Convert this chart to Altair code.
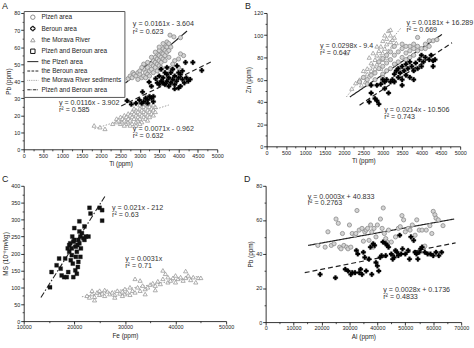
import altair as alt
import pandas as pd

FONT = "Liberation Sans"

# ---------------- Panel A : Pb vs Ti ----------------
A_PLZEN = [(2700,41.5),(2750,43),(2800,42),(2820,45),(2850,44),(2900,43),(2950,45),(3000,44),(3050,42),(3100,43),
           (3000,46),(3100,47),(3150,45),(3200,44),(3200,48),(3250,46),(3300,47),(3300,50),(3350,49),(3350,52),
           (3400,48),(3400,51),(3400,54),(3450,50),(3450,53),(3450,56),(3500,52),(3500,55),(3500,49),(3550,54),
           (3550,57),(3550,51),(3600,53),(3600,56),(3600,59),(3650,55),(3650,58),(3650,61),(3700,57),(3700,60),
           (3700,63),(3750,58),(3750,62),(3800,60),(3780,67),(3880,66),(4050,65.5),(3600,62),(3500,58),(3400,57),
           (3300,54),(3200,51),(3100,50),(3050,48),(4130,55),(4000,53),(3900,52),(4050,56),(3850,50),(3750,54),
           (3650,52),(3550,48),(3450,46),(3350,45),(3250,43),(3150,42),(2950,41),(3770,47.5),(4000,48),(3500,60)]
A_BEROUN = [(2670,28.5),(2780,26.4),(2900,27),(2990,28.9),(3050,27),(3100,28),(3150,30),(3200,29),(3250,31),(3300,30),
            (3350,28),(3350,31),(3200,27),(3070,33.7),(3240,39.5),(3300,37),(3410,41.5),(3450,39),(3500,38),(3500,43),
            (3550,40),(3600,42),(3600,39),(3650,45),(3650,38),(3700,40),(3700,44),(3750,37),(3750,42),(3800,45),
            (3800,39),(3850,41),(3850,47),(3900,43),(3900,38),(3950,40),(3960,49),(4000,42),(4000,45),(4050,37),
            (4050,44),(4100,41),(4100,46),(4150,39),(4180,51),(4200,42),(4250,40),(4300,41),(4370,51),(4600,46.3),
            (3550,47),(3700,48),(4000,36),(3900,35.5)]
A_MORAVA = [(1820,14),(1970,13),(2100,12),(2300,15),(2400,16),(2400,18),(2450,17),(2500,15),(2500,19),(2550,16),
            (2550,18),(2600,17),(2600,20),(2650,15),(2650,19),(2700,16),(2700,18),(2700,21),(2750,17),(2750,20),
            (2800,15),(2800,19),(2800,22),(2850,18),(2850,21),(2900,16),(2900,20),(2900,23),(2950,17),(2950,19),
            (2950,22),(3000,18),(3000,21),(3000,24),(3050,16),(3050,20),(3050,23),(3100,19),(3100,22),(3100,25),
            (3150,18),(3150,21),(3150,24),(3200,20),(3200,23),(3200,26),(3250,19),(3250,22),(3250,25),(3300,21),
            (3300,24),(3300,27),(3350,20),(3350,23),(3400,22),(3400,25),(3100,27),(3000,26),(2850,24),(2600,14),
            (2750,14),(3200,17),(3350,26),(3000,15),(2900,14)]
A_LINES = [("solid", 2630, 38.9, 4220, 69.4), ("dashed", 2520, 25.4, 4860, 51.5), ("dotted", 1825, 12.0, 3750, 26.0)]
A_TEXT = [("y = 0.0161x - 3.604", 2820, 73.3), ("r\u00b2 = 0.623", 2820, 69.0),
          ("y = 0.0116x - 3.902", 910, 27.4), ("r\u00b2 = 0.585", 910, 23.1),
          ("y = 0.0071x - 0.962", 2820, 12.0), ("r\u00b2 = 0.632", 2820, 7.7)]

# ---------------- Panel B : Zn vs Ti ----------------
B_MORAVA = [(2400,60),(2450,55),(2500,62),(2550,58),(2600,65),(2600,70),(2650,63),(2700,68),(2700,75),(2750,72),
            (2750,66),(2800,78),(2800,70),(2850,74),(2850,82),(2900,76),(2900,86),(2950,80),(2950,90),(3000,84),
            (3000,95),(3050,88),(3050,100),(3100,92),(3100,97),(3150,104),(3150,86),(3200,94),(3200,100),(3250,96),
            (3250,90),(3300,98),(3350,93),(2650,80),(2850,90),(2500,68),(2300,57),(2200,52),(3000,78),(3100,80),
            (2750,84),(3200,105),(2950,70),(2060,84)]
B_PLZEN = [(2400,58),(2500,62),(2600,60),(2700,64),(2800,66),(2900,70),(3000,72),(3000,65),(3100,68),(3100,75),
           (3200,70),(3200,78),(3300,74),(3300,82),(3400,76),(3400,85),(3500,80),(3500,88),(3600,84),(3600,78),
           (3700,86),(3700,90),(3800,88),(3800,82),(3900,90),(4000,88),(4100,92),(4200,90),(4300,95),(4400,96),
           (3300,90),(3200,85),(3100,82),(3000,79),(2900,76),(3500,92),(3600,90),(3800,92),(3900,86),(4100,88),
           (4200,95),(3900,98),(3700,80),(2800,60),(3000,62),(2600,56)]
B_BEROUN = [(2650,40),(2700,48),(2700,55),(2800,43),(2850,41),(2900,38),(2850,55),(2950,56),(3000,60),(3050,52),
            (3050,58),(3100,60),(3200,58),(3250,60),(3300,65),(3300,58),(3350,68),(3400,62),(3400,70),(3450,66),
            (3500,72),(3500,60),(3550,68),(3600,74),(3600,64),(3650,70),(3700,76),(3700,62),(3750,72),(3800,68),
            (3800,60),(3850,75),(3900,70),(3950,78),(4000,72),(4000,82),(4050,76),(4100,80),(4200,78),(4250,82),
            (4300,72),(4300,77),(4350,78),(3500,55),(3150,48)]
B_LINES = [("dotted", 2060, 44.4, 3480, 107), ("solid", 2150, 44.4, 4530, 100.7), ("dashed", 2400, 37, 4790, 93.3)]
B_TEXT = [("y = 0.0181x + 16.289", 3612, 111), ("r\u00b2 = 0.669", 3612, 104.6),
          ("y = 0.0298x - 9.4", 1380, 90.4), ("r\u00b2 = 0.647", 1380, 83.9),
          ("y = 0.0214x - 10.506", 3041, 32.6), ("r\u00b2 = 0.743", 3041, 26.1)]

# ---------------- Panel C : MS vs Fe ----------------
C_PB = [(15200,100),(15500,145),(16500,165),(17000,185),(17300,155),(17500,135),(18000,130),(18500,130),(18200,185),
        (18800,145),(19000,205),(19000,225),(19200,230),(19500,215),(19500,195),(19700,170),(19800,130),(19800,235),
        (20000,240),(20000,275),(20200,150),(20300,220),(20500,205),(20500,140),(20700,160),(20800,240),(20800,175),
        (21000,230),(21000,295),(21000,265),(21200,250),(21300,215),(21500,260),(21800,245),(22000,240),(22000,280),
        (22300,250),(22800,250),(23000,335),(23200,318),(25000,335),(25500,328),(25500,297),(19300,180),(20300,190),
        (21200,190),(18700,215),(19600,250),(20600,225)]
C_MORAVA = [(22500,75),(23000,70),(23500,80),(23500,90),(24000,72),(24500,85),(25000,78),(25000,90),(25500,82),
            (26000,75),(26500,88),(27000,80),(27500,85),(28000,78),(28500,90),(29000,82),(29500,88),(30000,95),
            (30000,80),(30500,85),(31000,78),(31500,90),(32000,125),(32000,85),(32500,100),(33000,120),(33000,90),
            (33500,105),(34000,95),(34500,100),(35000,108),(35500,112),(36000,105),(36500,118),(37000,110),
            (37500,150),(37500,125),(38000,140),(38500,130),(38500,115),(39000,120),(39500,128),(40000,115),
            (40000,135),(40500,125),(41000,130),(41500,120),(42000,148),(42000,128),(42500,135),(43000,122),
            (43500,130),(44000,115),(44500,128),(45000,128),(24000,62),(26000,92),(28000,70),(34000,80),(36000,92),
            (29500,75),(31000,100)]
C_LINES = [("dashdot", 13400, 70, 26100, 370), ("dotted", 21500, 72, 44500, 132)]
C_TEXT = [("y = 0.021x - 212", 27450, 334.6), ("r\u00b2 = 0.63", 27450, 314),
          ("y = 0.0031x", 30065, 183.4), ("r\u00b2 = 0.71", 30065, 163)]

# ---------------- Panel D : Pb vs Al ----------------
D_PLZEN = [(18700,45),(21300,44),(22300,53),(23500,45),(24500,46),(25200,60.5),(26000,58),(26500,44),(27000,43),
           (27500,52),(28000,45),(29000,44),(29500,43),(30000,57),(30500,44),(31000,52),(32000,51),(32300,52),
           (32700,65.5),(33500,54),(34500,55),(35000,47.5),(35500,53),(36000,54),(36500,55),(37000,48),(37600,57),
           (38000,53),(38800,55),(39500,50),(40000,57),(41100,60.5),(41700,55),(42100,67),(42500,52),(43000,49),
           (44000,54),(45000,47),(46500,50),(47500,55),(48200,56),(48800,62.5),(49400,60),(50000,53),(51000,55),
           (51700,54),(52500,57),(53500,51),(54100,60),(55000,54),(56000,54),(57000,44.6),(57500,54),(58800,56.6),
           (59500,52),(60000,65),(60600,63),(61000,61),(61800,60),(63500,56.6),(43500,47),(38500,44)]
D_BEROUN = [(19500,28),(25000,26),(28500,31),(29500,30),(30500,28),(31000,29),(32000,29),(32500,42),(33000,40),
            (33500,29),(34000,31),(34500,28),(35000,41),(35500,38),(36000,30),(37000,37),(37500,44),(38000,28),
            (38500,46),(39000,45),(39500,35),(40000,33),(40500,30),(41000,38),(41500,39),(42000,47),(43000,46),
            (43500,45),(44000,44),(45000,40),(45500,37),(46000,38),(47000,41),(47500,39),(48000,51),(48500,40),
            (49000,43),(50000,40),(51000,42),(51500,37),(52000,50),(53000,48),(53500,41),(54000,40),(55000,41),
            (55500,43),(56000,44),(57000,41),(58000,40),(59000,40),(60000,39),(61000,41),(62000,39),(63000,41),
            (54500,37),(43000,39),(46500,42)]
D_LINES = [("solid", 15200, 45, 67500, 60.5), ("dashed", 14000, 29, 68000, 46.5)]
D_TEXT = [("y = 0.0003x + 40.833", 15050, 73.6), ("r\u00b2 = 0.2763", 15050, 69.7),
          ("y = 0.0028x + 0.1736", 42100, 19.0), ("r\u00b2 = 0.4833", 42100, 14.7)]

LEGEND_LABELS = ["Plze\u0148 area", "Beroun area", "the Morava River", "Plze\u0148 and Beroun area",
                 "the Plze\u0148 area", "the Beroun area", "the Morava River sediments", "Plze\u0148 and Beroun area "]

# ---------------- styles ----------------
CIRCLE = dict(shape="circle", fill="#d4d4d4", stroke="#8a8a8a", size=18, strokeWidth=0.8)
CROSS = dict(shape="cross", fill="#000000", stroke="#000000", size=22, strokeWidth=0.3)
TRI = dict(shape="triangle-up", fill="#ffffff", stroke="#9a9a9a", size=18, strokeWidth=0.8)
SQUARE = dict(shape="square", fill="#111111", stroke="#111111", size=16, strokeWidth=0.3)
LINE_STYLE = {"solid": ("#222222", [1, 0], 1.2), "dashed": ("#222222", [5, 3], 1.2),
              "dotted": ("#a0a0a0", [1.5, 1.5], 1.0), "dashdot": ("#222222", [6, 2, 1.5, 2], 1.1)}

P_SOLID = "M-2.5,0H2.5"
P_DASH = "M-2.5,0H-1.2M-0.6,0H0.6M1.2,0H2.5"
P_DOT = "M-2.5,0H-2.1M-1.7,0H-1.3M-0.9,0H-0.5M-0.1,0H0.3M0.7,0H1.1M1.5,0H1.9M2.3,0H2.5"
P_DASHDOT = "M-2.5,0H-1.0M-0.6,0H-0.3M0.1,0H1.6M2.0,0H2.3"


def ax(title, values):
    return alt.Axis(title=title, values=values, grid=False, format="d", labelOverlap=False,
                    labelFlush=False, tickSize=3, tickColor="#000", domainColor="#000",
                    domainWidth=0.8, tickWidth=0.8, labelFontSize=5.5, titleFontSize=6.5,
                    labelFont=FONT, titleFont=FONT, titleFontWeight="normal",
                    labelColor="#222", titleColor="#222", labelPadding=1, titlePadding=2)


def minor_ax(values, orient):
    return alt.Axis(title=None, values=values, grid=False, labels=False, domain=False, orient=orient,
                    tickSize=1.6, tickColor="#000", tickWidth=0.7)


def panel(label, xdom, xvals, xtitle, ydom, yvals, ytitle, pointsets, lines, texts, w, h, extra=None):
    xs = alt.Scale(domain=xdom, nice=False, zero=False)
    ys = alt.Scale(domain=ydom, nice=False, zero=False)
    X = lambda: alt.X("x:Q", scale=xs, axis=None)
    Y = lambda: alt.Y("y:Q", scale=ys, axis=None)
    xmin = [(a + b) / 2 for a, b in zip(xvals[:-1], xvals[1:])]
    ymin = [(a + b) / 2 for a, b in zip(yvals[:-1], yvals[1:])]
    layers = []
    # main axes
    layers.append(alt.Chart(pd.DataFrame({"x": [xdom[0]], "y": [ydom[0]]})).mark_point(opacity=0, size=0).encode(
        x=alt.X("x:Q", scale=xs, axis=ax(xtitle, xvals)), y=alt.Y("y:Q", scale=ys, axis=ax(ytitle, yvals))))
    # minor ticks
    layers.append(alt.Chart(pd.DataFrame({"x": [xdom[0]], "y": [ydom[0]]})).mark_point(opacity=0, size=0).encode(
        x=alt.X("x:Q", scale=xs, axis=minor_ax(xmin, "bottom")), y=alt.Y("y:Q", scale=ys, axis=minor_ax(ymin, "left"))))
    for kind, x1, y1, x2, y2 in lines:
        col, dash, sw = LINE_STYLE[kind]
        df = pd.DataFrame({"x": [x1], "y": [y1], "x2": [x2], "y2": [y2]})
        layers.append(alt.Chart(df).mark_rule(color=col, strokeDash=dash, strokeWidth=sw).encode(
            x=X(), y=Y(), x2="x2:Q", y2="y2:Q"))
    for pts, style in pointsets:
        df = pd.DataFrame(pts, columns=["x", "y"])
        layers.append(alt.Chart(df).mark_point(opacity=1, **style).encode(x=X(), y=Y()))
    if extra is not None:
        layers.append(extra(X, Y))
    tdf = pd.DataFrame(texts, columns=["t", "x", "y"])
    layers.append(alt.Chart(tdf).mark_text(align="left", baseline="middle", fontSize=7.2, font=FONT,
                                           color="#333").encode(x=X(), y=Y(), text="t:N"))
    return alt.layer(*layers).resolve_axis(x="independent", y="independent").properties(
        width=w, height=h,
        title=alt.TitleParams(text=label, anchor="start", frame="group", dx=-22, offset=0,
                              fontSize=9, fontWeight="normal", font=FONT, color="#222"))


def legend_layer(X, Y):
    df = pd.DataFrame({"x": [0], "y": [0], "s": [LEGEND_LABELS[0]]})
    lg = alt.Legend(title=None, orient="none", legendX=0, legendY=-2, padding=3, symbolOffset=3,
                    labelOffset=5.5, labelFontSize=6.5, labelFont=FONT, labelColor="#222",
                    symbolSize=20, symbolStrokeWidth=1, rowPadding=2.5, strokeColor="#555",
                    fillColor="#ffffff", labelLimit=200)
    return alt.Chart(df).mark_point(opacity=0, size=0).encode(
        x=X(), y=Y(),
        shape=alt.Shape("s:N", scale=alt.Scale(domain=LEGEND_LABELS,
                        range=["circle", "cross", "triangle-up", "square", P_SOLID, P_DASH, P_DOT, P_DASHDOT]),
                        legend=lg),
        fill=alt.Fill("s:N", scale=alt.Scale(domain=LEGEND_LABELS,
                      range=["#d4d4d4", "#000", "#fff", "#111", "transparent", "transparent", "transparent", "transparent"]),
                      legend=lg),
        stroke=alt.Stroke("s:N", scale=alt.Scale(domain=LEGEND_LABELS,
                          range=["#8a8a8a", "#000", "#9a9a9a", "#111", "#222", "#222", "#a0a0a0", "#222"]),
                          legend=lg),
    )


ti_vals = list(range(0, 5001, 500))
A = panel("A", [0, 5000], ti_vals, "Ti (ppm)", [0, 80], list(range(0, 81, 10)), "Pb (ppm)",
          [(A_PLZEN, CIRCLE), (A_MORAVA, TRI), (A_BEROUN, CROSS)], A_LINES, A_TEXT, 196, 138, extra=legend_layer)
B = panel("B", [0, 5000], ti_vals, "Ti (ppm)", [0, 120], list(range(0, 121, 20)), "Zn (ppm)",
          [(B_MORAVA, TRI), (B_PLZEN, CIRCLE), (B_BEROUN, CROSS)], B_LINES, B_TEXT, 196, 135)
C = panel("C", [10000, 50000], list(range(10000, 50001, 10000)), "Fe (ppm)", [0, 400], list(range(0, 401, 50)),
          "MS (10\u207b\u2078m\u00b3/kg)", [(C_MORAVA, TRI), (C_PB, SQUARE)], C_LINES, C_TEXT, 205, 137)
D = panel("D", [0, 70000], list(range(0, 70001, 10000)), "Al (ppm)", [0, 80], list(range(0, 81, 20)), "Pb (ppm)",
          [(D_PLZEN, CIRCLE), (D_BEROUN, CROSS)], D_LINES, D_TEXT, 198, 138)

row1 = alt.hconcat(A, B, spacing=21)
row2 = alt.hconcat(C, D, spacing=10)
chart = alt.vconcat(row1, row2, spacing=8).properties(
    padding={"left": 2, "top": 0, "right": 0, "bottom": 0}, background="white"
).configure_view(stroke=None)

chart.save("out.html", embed_options={"renderer": "svg", "actions": False})
